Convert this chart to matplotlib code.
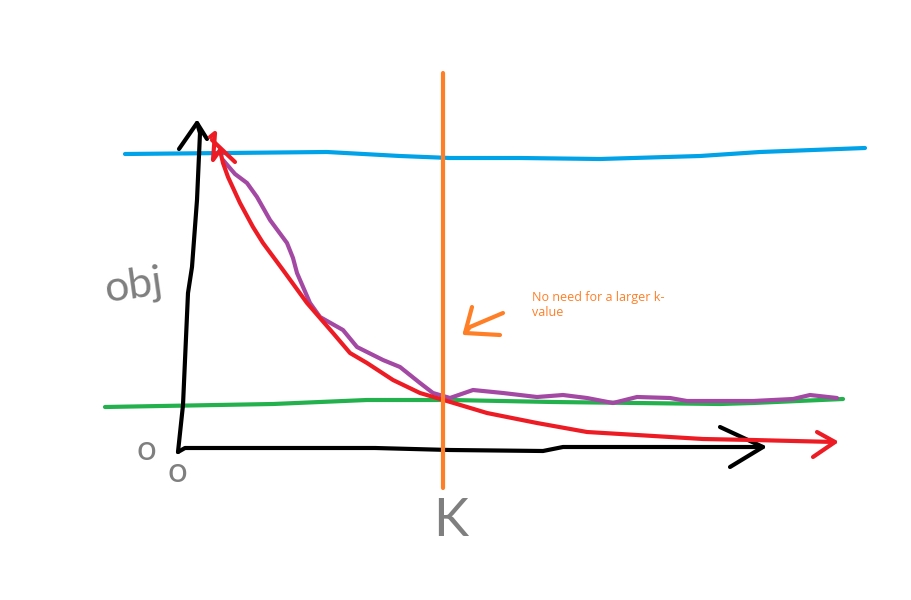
import matplotlib
matplotlib.use("Agg")
import matplotlib.pyplot as plt

# Sketch coordinates (canvas units, y grows downward)
yaxis_x = [178, 183, 188, 192, 197, 200, 197]
yaxis_y = [452, 405, 293, 267, 200, 133, 123]
yhead_x = [179, 197, 207]
yhead_y = [149, 123, 139]

xaxis_x = [178, 185, 375, 450, 543, 563, 763]
xaxis_y = [452, 448, 448, 450, 451, 447, 447]
xhead_x = [720, 763, 730]
xhead_y = [427, 447, 467]

blue_x = [125, 327, 400, 450, 520, 600, 700, 760, 865]
blue_y = [154, 152, 156, 158, 158, 159, 156, 152, 148]

green_x = [105, 273, 367, 450, 553, 720, 753, 843]
green_y = [407, 404, 400, 400, 402, 404, 403, 399]

red_x = [210, 215, 213, 220, 223, 228, 240, 253, 263, 283, 307, 333, 350, 367,
         393, 420, 447, 487, 537, 587, 637, 703, 753, 835]
red_y = [137, 133, 160, 150, 163, 177, 203, 227, 243, 270, 303, 333, 353, 363,
         380, 393, 401, 413, 423, 432, 435, 439, 440, 442]
redtip_x = [212, 235]
redtip_y = [140, 162]
redhead_x = [817, 835, 813]
redhead_y = [432, 442, 457]

purple_x = [223, 235, 247, 257, 270, 287, 293, 297, 310, 320, 343, 357, 383, 400,
            420, 433, 450, 473, 503, 537, 563, 587, 613, 637, 670, 687, 753, 793,
            810, 837]
purple_y = [160, 174, 183, 197, 220, 243, 258, 273, 303, 317, 330, 347, 360, 367,
            383, 393, 398, 390, 393, 397, 395, 398, 403, 397, 398, 401, 401, 399,
            395, 398]

orange_x = [443, 443]
orange_y = [73, 488]
oarrow_x = [503, 470, 465, 500]
oarrow_y = [313, 327, 333, 335]
oarrow2_x = [472, 465]
oarrow2_y = [307, 333]

note = "No need for a larger k-\nvalue"

fig = plt.figure(figsize=(9.12, 6.0), dpi=100)
ax = fig.add_axes([0, 0, 1, 1])
ax.set_xlim(0, 912)
ax.set_ylim(600, 0)
ax.axis("off")

kw = dict(lw=3.0, solid_capstyle="round", solid_joinstyle="round")
BLACK, BLUE, GREEN = "#000000", "#00A2E8", "#22B14C"
RED, PURPLE, ORANGE, GRAY = "#ED1C24", "#A349A4", "#FF7F27", "#7F7F7F"

ax.plot(blue_x, blue_y, color=BLUE, **kw)
ax.plot(green_x, green_y, color=GREEN, **kw)
ax.plot(yaxis_x, yaxis_y, color=BLACK, **kw)
ax.plot(yhead_x, yhead_y, color=BLACK, **kw)
ax.plot(xaxis_x, xaxis_y, color=BLACK, **kw)
ax.plot(xhead_x, xhead_y, color=BLACK, **kw)
ax.plot(purple_x, purple_y, color=PURPLE, **kw)
ax.plot(red_x, red_y, color=RED, **kw)
ax.plot(redtip_x, redtip_y, color=RED, **kw)
ax.plot(redhead_x, redhead_y, color=RED, **kw)
ax.plot(orange_x, orange_y, color=ORANGE, **kw)
ax.plot(oarrow_x, oarrow_y, color=ORANGE, **kw)
ax.plot(oarrow2_x, oarrow2_y, color=ORANGE, **kw)

ax.text(532, 291, note, color=ORANGE, fontsize=9, family="Open Sans",
        va="top", ha="left", linespacing=1.25)
ax.text(134, 286, "obj", color=GRAY, fontsize=31, family="Lato",
        ha="center", va="center", rotation=8)
ax.text(146, 450, "o", color=GRAY, fontsize=25, family="Lato",
        ha="center", va="center")
ax.text(177, 472, "o", color=GRAY, fontsize=25, family="Lato",
        ha="center", va="center")
ax.text(451, 521, "K", color=GRAY, fontsize=38, family="Lato",
        ha="center", va="center")

fig.savefig("out.png", dpi=100)
